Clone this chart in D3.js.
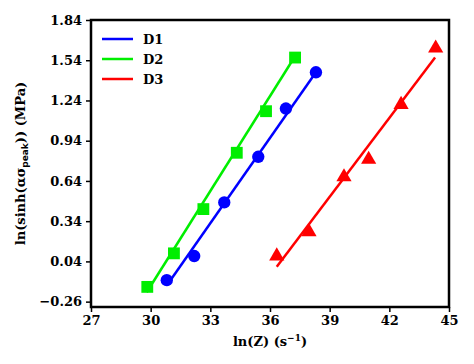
<!DOCTYPE html>
<html lang="en">
<head>
  <meta charset="UTF-8" />
  <title>ln(sinh(ασ)) vs ln(Z)</title>
  <style>
    body { margin: 0; background: #fff; }
    svg { display: block; }
    text { font-family: "DejaVu Serif", serif; font-weight: bold; fill: #000; }
  </style>
  <script src="https://cdn.jsdelivr.net/npm/d3@7"></script>
</head>
<body>
<script>
  // values
  const d1X = [30.81, 32.19, 33.70, 35.41, 36.80, 38.31];
  const d1Y = [-0.10, 0.08, 0.48, 0.82, 1.18, 1.45];
  const d2X = [29.83, 31.17, 32.65, 34.33, 35.80, 37.26];
  const d2Y = [-0.15, 0.10, 0.43, 0.85, 1.16, 1.56];
  const d3X = [36.34, 37.96, 39.72, 40.96, 42.59, 44.33];
  const d3Y = [0.08, 0.26, 0.67, 0.80, 1.21, 1.63];

  // fitted line end points
  const fit1 = [[30.81, -0.14], [38.31, 1.45]];
  const fit2 = [[29.80, -0.19], [37.26, 1.57]];
  const fit3 = [[36.34, 0.00], [44.30, 1.56]];

  const xTicks = [27, 30, 33, 36, 39, 42, 45];
  const yTicks = [-0.26, 0.04, 0.34, 0.64, 0.94, 1.24, 1.54, 1.84];

  const W = 474, H = 364;
  const m = { left: 91, right: 25, top: 20, bottom: 57 };
  const iw = W - m.left - m.right, ih = H - m.top - m.bottom;

  const svg = d3.select("body").append("svg")
    .attr("width", W).attr("height", H);
  const g = svg.append("g").attr("transform", `translate(${m.left},${m.top})`);

  const x = d3.scaleLinear().domain([27, 45]).range([0, iw]);
  const y = d3.scaleLinear().domain([-0.30, 1.84]).range([ih, 0]);

  const series = [
    { name: "D1", color: "#0000ff", xs: d1X, ys: d1Y, fit: fit1, shape: d3.symbolCircle, size: 120 },
    { name: "D2", color: "#00ee00", xs: d2X, ys: d2Y, fit: fit2, shape: d3.symbolSquare, size: 140 },
    { name: "D3", color: "#ff0000", xs: d3X, ys: d3Y, fit: fit3, shape: d3.symbolTriangle, size: 100 }
  ];

  const line = d3.line().x(d => x(d[0])).y(d => y(d[1]));

  series.forEach(s => {
    g.append("path")
      .attr("d", line(s.fit))
      .attr("fill", "none")
      .attr("stroke", s.color)
      .attr("stroke-width", 2.5);
    g.selectAll(null)
      .data(s.xs.map((v, i) => [v, s.ys[i]]))
      .enter().append("path")
      .attr("d", d3.symbol().type(s.shape).size(s.size))
      .attr("transform", d => `translate(${x(d[0])},${y(d[1])})`)
      .attr("fill", s.color);
  });

  // axes
  const xAxis = g.append("g").attr("transform", `translate(0,${ih})`)
    .call(d3.axisBottom(x).tickValues(xTicks).tickFormat(d3.format("d")).tickSize(5).tickPadding(4));
  const yAxis = g.append("g")
    .call(d3.axisLeft(y).tickValues(yTicks).tickFormat(d => d3.format(".2f")(d).replace("-", "\u2212")).tickSize(5).tickPadding(4));
  [xAxis, yAxis].forEach(a => {
    a.select(".domain").remove();
    a.selectAll(".tick line").attr("stroke", "#000").attr("stroke-width", 1.5);
    a.selectAll(".tick text").style("font-size", "13px").style("font-family", "DejaVu Serif").style("font-weight", "bold");
  });

  g.append("rect")
    .attr("width", iw).attr("height", ih)
    .attr("fill", "none").attr("stroke", "#000").attr("stroke-width", 2.5);

  // legend
  const leg = g.append("g").attr("transform", "translate(11,19)");
  series.forEach((s, i) => {
    const row = leg.append("g").attr("transform", `translate(0,${i * 20})`);
    row.append("line").attr("x1", 0).attr("x2", 31)
      .attr("stroke", s.color).attr("stroke-width", 2.5);
    row.append("text").attr("x", 41).attr("y", 5)
      .style("font-size", "13px").text(s.name);
  });

  // axis titles
  const xl = svg.append("text")
    .attr("x", m.left + iw / 2).attr("y", 346)
    .attr("text-anchor", "middle").style("font-size", "13px");
  xl.append("tspan").text("ln(Z) (s");
  xl.append("tspan").attr("dy", -5).style("font-size", "9px").text("\u22121");
  xl.append("tspan").attr("dy", 5).text(")");

  const yl = svg.append("text")
    .attr("transform", `translate(25,${m.top + ih / 2}) rotate(-90)`)
    .attr("text-anchor", "middle").style("font-size", "13px");
  yl.append("tspan").text("ln(sinh(\u03b1\u03c3");
  yl.append("tspan").attr("dy", 3).style("font-size", "9px")
    .style("font-family", "DejaVu Sans").text("peak");
  yl.append("tspan").attr("dy", -3).text(")) (MPa)");
</script>
</body>
</html>
